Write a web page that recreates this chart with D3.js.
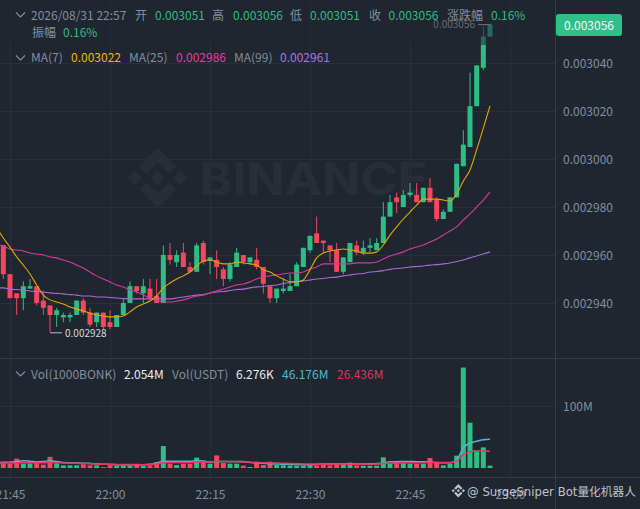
<!DOCTYPE html>
<html>
<head>
    <meta charset="utf-8" />
    <title>1000BONK 1m</title>
    <script src="https://cdn.jsdelivr.net/npm/d3@7/dist/d3.min.js"></script>
    <style>
        html, body { margin: 0; padding: 0; background: #1f2630; overflow: hidden; }
        svg { display: block; font-family: "Noto Sans CJK SC", "Noto Sans", sans-serif; }
        .axis path, .axis line { display: none; }
        .axis text { fill: #848e9c; font-size: 12px; font-family: "Noto Sans CJK SC", "Noto Sans", sans-serif; }
    </style>
</head>
<body>
    <svg id="chart" width="640" height="509"></svg>
    <script>
        // prices are in units of 0.000001, first row (21:43) sits just off the left edge
        const opens = [2964,2964,2952,2944,2942,2946,2947,2941,2939,2935,2934,2934,2935,2941,2936,2932,2936,2932,2930,2935,2940,2947,2944,2946,2943,2940,2960,2957,2961,2955,2953,2965,2957.5,2958,2954,2950,2955,2960,2957,2958,2955,2947,2942,2945,2945,2947,2955,2962,2969,2966,2964,2962,2953,2957,2964,2961,2963,2962,2965,2976,2984,2980,2985,2985,2982,2988,2983,2975,2978,2984,2997,3005,3022,3038,3051];
        const highs = [2965,2964,2952,2944,2949,2950,2947,2945,2939,2938,2936,2936,2941,2942,2938,2936,2936,2937,2935,2942,2949,2947,2950,2950,2950,2964,2965,2962,2965,2957,2965,2966,2959,2962,2955,2957,2963,2960,2959,2963,2955,2947,2946,2950,2952,2957,2963,2968,2976,2966,2964,2965,2959,2965,2966,2966,2967,2967,2982,2985,2986,2987,2990,2990,2988,2992,2984,2979,2984,2998,3012,3036,3039,3055,3056];
        const lows = [2963,2950,2942,2935,2937,2946,2939,2935,2928,2930,2932,2932,2935,2935,2930,2930,2929,2929,2930,2935,2940,2944,2940,2941,2940,2940,2956,2955,2955,2953,2953,2956,2952,2950,2947,2949,2955,2956,2956,2954,2944,2940,2940,2944,2945,2947,2955,2961,2965,2961,2957,2953,2952,2957,2960,2960,2961,2962,2965,2976,2977.5,2980,2984,2982,2982,2982,2974,2975,2978,2984,2997,3005,3022,3037,3051];
        const closes = [2964,2952,2942,2942,2947,2947,2940,2938,2935,2937,2935,2935,2941,2936,2931,2936,2930,2930,2935,2940,2947,2945,2947,2942,2940,2960,2958,2960,2955,2953,2964,2957,2959,2955,2950,2956,2961,2957,2959,2955,2948,2942,2946,2946,2947,2956,2963,2968,2965,2965,2962,2953,2959,2965,2961,2963,2964,2965,2976,2982,2982,2985,2986,2982,2988,2982,2975,2978,2984,2998,3006,3022,3039,3051,3056];
        const ma7 = [2971.3,2967.1,2963.3,2959.2,2955.8,2952.1,2947.5,2943.3,2941.3,2940.4,2939.6,2938.3,2937.5,2936.7,2935.8,2935,2934.6,2934.2,2934.2,2934.6,2936.3,2938.3,2939.6,2940.8,2942.9,2946.3,2948.3,2950,2951.3,2952.9,2955.4,2957.5,2957.9,2957.1,2956.3,2956.3,2957.1,2956.7,2956.3,2955.8,2953.8,2952.9,2951.3,2950,2948.8,2948.8,2949.6,2953.8,2958.8,2960.8,2961.7,2962.1,2962.5,2962.1,2961.7,2960.8,2960.8,2961.3,2964.2,2968.3,2971.7,2975,2977.9,2980.8,2983.3,2983.3,2983.3,2982.9,2982.5,2985.4,2990.8,2995.4,3003.8,3012.9,3022.1];
        const ma25 = [2964.2,2963.8,2962.5,2962.1,2961.7,2960.8,2960.4,2960,2959.2,2958.8,2957.9,2957.1,2955.8,2954.6,2952.9,2951.3,2950,2948.8,2947.5,2946.7,2945.4,2944.6,2943.3,2942.1,2941.3,2940.4,2940.4,2940.8,2941.3,2942.1,2942.9,2943.3,2944.2,2945,2945.8,2946.7,2947.5,2947.9,2948.8,2950,2950.8,2951.3,2951.7,2952.1,2952.5,2952.5,2952.9,2954.2,2955,2956.3,2956.3,2956.3,2956.3,2956.3,2956.7,2956.7,2956.7,2957.1,2958.3,2959.6,2960.4,2961.3,2962.5,2963.3,2964.2,2965.4,2966.7,2968.3,2970,2971.7,2974.6,2977.1,2980,2982.9,2986.3];
        const ma99 = [2946.3,2946.3,2945.8,2945.6,2945.4,2945,2944.8,2944.6,2944.2,2944,2943.8,2943.5,2943.3,2942.9,2942.9,2942.5,2942.5,2942.3,2942.1,2941.9,2941.7,2941.7,2941.7,2941.7,2941.7,2941.7,2941.7,2942.1,2942.5,2942.9,2943.3,2943.5,2944.2,2944.6,2944.8,2945.2,2945.6,2945.8,2946.3,2946.7,2946.9,2947.3,2947.5,2948.1,2948.5,2949,2949.2,2949.6,2950,2950.2,2950.6,2950.8,2951.3,2951.7,2952.1,2952.3,2952.9,2953.1,2953.5,2954,2954.4,2954.6,2955,2955.2,2955.4,2955.8,2956,2956.3,2956.7,2957.3,2957.9,2958.8,2959.6,2960.4,2961.3];
        // volume in millions
        const volumes = [8,8,7,15,7,7.5,9.7,5.4,18,7.5,4.3,4.3,4.3,6,4.3,4.3,1.5,4.3,3.8,3.8,3.8,4.8,3.2,4.3,9.7,35.5,7,4.8,7,7,16.7,9.7,7,20.4,8,7,7,3.8,1.6,10.2,4.8,10.2,4.8,4.3,3.8,3.8,3.8,4.3,4.3,6,4.3,7,6,8.6,4.3,3.8,3.8,3.8,17.2,7,10.8,8,7,7,7,16.1,9.7,4.3,7,19.9,162,73,28.5,33.3,3.8];
        const volMaBlue = [9,9.1,9.3,10.5,11.8,11,9.7,10.5,11.8,10.3,9,8.5,8,7.8,7.5,7,6,5.8,5.4,5.4,5.4,5.4,5.4,6,8,10.7,10.7,10.7,10.7,10.8,11.8,11.3,9.7,10.2,10.5,10.5,10.5,10.3,9,8,7.5,7,6.5,6,5.8,5.6,5.4,5.4,6,6.5,6.5,6.5,6.5,6.5,6.5,6.5,6.7,7.2,8,10.2,10.2,10.4,10.4,10.2,10.2,9.7,9,8.6,8.6,12.4,32.8,40,43,45.7,46.2];
        const volMaRed = [8,8,8,8.2,8.5,8.5,8.5,8.5,8.8,8.6,8.2,8,7.6,7.2,6.8,6.4,6,6,5.8,5.8,5.6,5.6,5.4,5.6,6.5,8.5,8.8,9,9,9,9.3,9.5,9.6,10.4,10.4,10.2,10,9.6,9.2,8.8,8.5,8.2,8,7.5,7.2,7,6.6,6.4,6.2,6.2,6.2,6.2,6.2,6.2,6.2,6.2,6.2,6.4,7.2,7.6,8,8.2,8.4,8.6,8.6,9,9,8.8,8.8,10.8,21.5,25.8,27,27.4,27];
        const priceTicks = [2940, 2960, 2980, 3000, 3020, 3040];
        const timeTicks = [45, 60, 75, 90, 105, 120]; // minutes after 21:00
        const timeLabels = ['21:45', '22:00', '22:15', '22:30', '22:45', '23:00'];

        const GREEN = '#2ebd85', RED = '#f6465d', GREY = '#848e9c', GRID = '#29303b', BG = '#1f2630';

        const minutes = opens.map((d, i) => 43 + i);
        const x = d3.scaleLinear().domain([45, 120]).range([10, 510]);
        const y = d3.scaleLinear().domain([2940, 3040]).range([303, 63]);
        const yVol = d3.scaleLinear().domain([0, 100]).range([468, 406]);

        const svg = d3.select('#chart');
        svg.append('rect').attr('width', 640).attr('height', 509).attr('fill', BG);

        // grid
        const grid = svg.append('g').attr('stroke', GRID).attr('shape-rendering', 'crispEdges');
        grid.selectAll('.v').data(timeTicks).enter().append('line')
            .attr('x1', d => x(d)).attr('x2', d => x(d)).attr('y1', 0).attr('y2', 477);
        grid.selectAll('.h').data(priceTicks).enter().append('line')
            .attr('x1', 0).attr('x2', 555).attr('y1', d => y(d)).attr('y2', d => y(d));
        grid.append('line').attr('x1', 0).attr('x2', 555).attr('y1', yVol(100)).attr('y2', yVol(100));

        // watermark
        const mark = svg.append('g').attr('fill', '#282e38');
        const logo = (g, cx, cy, s) => {
            // the binance diamond, s is half the width
            const d = (dx, dy, r) => `M${cx + dx},${cy + dy - r}L${cx + dx + r},${cy + dy}L${cx + dx},${cy + dy + r}L${cx + dx - r},${cy + dy}Z`;
            g.append('path').attr('d', d(0, 0, s * 0.24));
            g.append('path').attr('d', d(-s * 0.76, 0, s * 0.24));
            g.append('path').attr('d', d(s * 0.76, 0, s * 0.24));
            const chevron = (sign) => `M${cx},${cy + sign * s}L${cx + s * 0.62},${cy + sign * s * 0.38}L${cx + s * 0.38},${cy + sign * s * 0.14}L${cx},${cy + sign * s * 0.52}L${cx - s * 0.38},${cy + sign * s * 0.14}L${cx - s * 0.62},${cy + sign * s * 0.38}Z`;
            g.append('path').attr('d', chevron(-1));
            g.append('path').attr('d', chevron(1));
        };
        logo(mark, 157.7, 178, 30);
        mark.append('text').attr('x', 199).attr('y', 195).attr('font-size', 45).attr('font-weight', 700)
            .attr('font-family', 'Inter, "Liberation Sans"')
            .attr('textLength', 229).attr('lengthAdjust', 'spacingAndGlyphs').text('BINANCE');

        // volume bars
        const barWidth = 5;
        svg.append('g').selectAll('rect').data(volumes).enter().append('rect')
            .attr('x', (d, i) => x(minutes[i]) - barWidth / 2)
            .attr('y', d => yVol(d))
            .attr('width', barWidth)
            .attr('height', d => yVol(0) - yVol(d))
            .attr('fill', (d, i) => closes[i] >= opens[i] ? GREEN : RED);

        const volLine = d3.line().x((d, i) => x(minutes[i])).y(d => yVol(d)).curve(d3.curveMonotoneX);
        [[volMaBlue, '#4fb9d0'], [volMaRed, '#e8385f']].forEach(([s, c]) => {
            svg.append('path').attr('d', volLine(s)).attr('fill', 'none').attr('stroke', c).attr('stroke-width', 1.5);
        });

        // candles
        const candles = svg.append('g').selectAll('g').data(opens).enter().append('g')
            .attr('fill', (d, i) => closes[i] >= opens[i] ? GREEN : RED);
        candles.append('rect')
            .attr('x', (d, i) => x(minutes[i]) - 0.5).attr('width', 1)
            .attr('y', (d, i) => y(highs[i]))
            .attr('height', (d, i) => y(lows[i]) - y(highs[i]));
        candles.append('rect')
            .attr('x', (d, i) => x(minutes[i]) - barWidth / 2).attr('width', barWidth)
            .attr('y', (d, i) => y(Math.max(opens[i], closes[i])))
            .attr('height', (d, i) => Math.max(1, Math.abs(y(opens[i]) - y(closes[i]))));

        // moving averages
        const maLine = d3.line().x((d, i) => x(minutes[i])).y(d => y(d)).curve(d3.curveMonotoneX);
        [[ma99, '#a76bd8'], [ma25, '#d63a9c'], [ma7, '#e6a700']].forEach(([s, c]) => {
            svg.append('path').attr('d', maLine(s)).attr('fill', 'none').attr('stroke', c).attr('stroke-width', 1.1);
        });

        // high and low marks
        const lowI = lows.indexOf(d3.min(lows)), highI = highs.indexOf(d3.max(highs));
        svg.append('line').attr('x1', x(minutes[lowI])).attr('x2', x(minutes[lowI]) + 12)
            .attr('y1', y(lows[lowI]) + 1).attr('y2', y(lows[lowI]) + 1).attr('stroke', '#b7bdc6');
        svg.append('text').attr('x', x(minutes[lowI]) + 15).attr('y', y(lows[lowI]) + 5)
            .attr('font-size', 10).attr('fill', '#d5d8dc').text('0.002928');
        svg.append('line').attr('x1', x(minutes[highI]) - 12).attr('x2', x(minutes[highI]) + 1)
            .attr('y1', y(highs[highI])).attr('y2', y(highs[highI])).attr('stroke', '#b7bdc6').attr('stroke-width', 1.2);
        svg.append('text').attr('x', x(minutes[highI]) - 15).attr('y', y(highs[highI]) + 3).attr('text-anchor', 'end')
            .attr('font-size', 10).attr('fill', '#b7bdc6').text('0.003056');

        // the legend block dims what is under it
        svg.append('rect').attr('x', 0).attr('y', 0).attr('width', 530).attr('height', 45)
            .attr('fill', BG).attr('opacity', 0.55);

        // pane separators
        const sep = svg.append('g').attr('stroke', '#363c46').attr('shape-rendering', 'crispEdges');
        sep.append('line').attr('x1', 0).attr('x2', 640).attr('y1', 358.5).attr('y2', 358.5);
        sep.append('line').attr('x1', 0).attr('x2', 640).attr('y1', 477.5).attr('y2', 477.5);
        sep.append('line').attr('x1', 555.5).attr('x2', 555.5).attr('y1', 0).attr('y2', 509);

        // axes
        const fmtPrice = d => '0.00' + d3.format('04d')(d);
        svg.append('g').attr('class', 'axis').attr('transform', 'translate(563,1)')
            .call(d3.axisRight(y).tickValues(priceTicks).tickSize(0).tickPadding(0).tickFormat(fmtPrice));
        svg.append('g').attr('class', 'axis').attr('transform', 'translate(563,1)')
            .call(d3.axisRight(yVol).tickValues([100]).tickSize(0).tickPadding(0).tickFormat(d => d + 'M'));
        svg.append('g').attr('class', 'axis').attr('transform', 'translate(0,490)')
            .call(d3.axisBottom(x).tickValues(timeTicks).tickSize(0).tickPadding(0).tickFormat((d, i) => timeLabels[i]));

        // last price tag
        svg.append('rect').attr('x', 556).attr('y', 14).attr('width', 66).attr('height', 22).attr('rx', 3).attr('fill', '#2fc08a');
        svg.append('text').attr('x', 589).attr('y', 30).attr('text-anchor', 'middle')
            .attr('font-size', 12).attr('fill', '#f4f6f7').text('0.003056');

        // legend rows
        const label = (tx, ty, str, fill) => svg.append('text').attr('x', tx).attr('y', ty)
            .attr('font-size', 12).attr('fill', fill).text(str);
        const chevronDown = (cy) => svg.append('path')
            .attr('d', `M16,${cy - 2.5}L20.5,${cy + 2}L25,${cy - 2.5}`)
            .attr('fill', 'none').attr('stroke', GREY).attr('stroke-width', 1.1);

        chevronDown(15);
        [[31, '2026/08/31 22:57', GREY], [135, '开', GREY], [155, '0.003051', GREEN], [212, '高', GREY],
         [233, '0.003056', GREEN], [290, '低', GREY], [310, '0.003051', GREEN], [369, '收', GREY],
         [388.5, '0.003056', GREEN], [447, '涨跌幅', GREY], [491, '0.16%', GREEN]]
            .forEach(d => label(d[0], 20, d[1], d[2]));
        label(32, 37, '振幅', GREY);
        label(63, 37, '0.16%', GREEN);

        chevronDown(58);
        [[31, 'MA(7)', GREY], [71, '0.003022', '#f0b90b'], [129, 'MA(25)', GREY], [176, '0.002986', '#e0409f'],
         [234, 'MA(99)', GREY], [280, '0.002961', '#a878e8']]
            .forEach(d => label(d[0], 62, d[1], d[2]));

        chevronDown(374);
        [[31, 'Vol(1000BONK)', GREY], [124, '2.054M', '#eaecef'], [172, 'Vol(USDT)', GREY], [236, '6.276K', '#eaecef'],
         [282, '46.176M', '#4fb9d0'], [337, '26.436M', '#d8375c']]
            .forEach(d => label(d[0], 379, d[1], d[2]));

        // bottom right credit
        const credit = svg.append('g').attr('fill', '#d0d4d9').attr('opacity', 0.9);
        logo(credit, 458.3, 490.7, 6.7);
        credit.append('text').attr('x', 467).attr('y', 496).attr('font-size', 11.7)
            .attr('font-family', '"DejaVu Sans", "Noto Sans CJK SC"').text('@ SurgeSniper Bot量化机器人');
    </script>
</body>
</html>
